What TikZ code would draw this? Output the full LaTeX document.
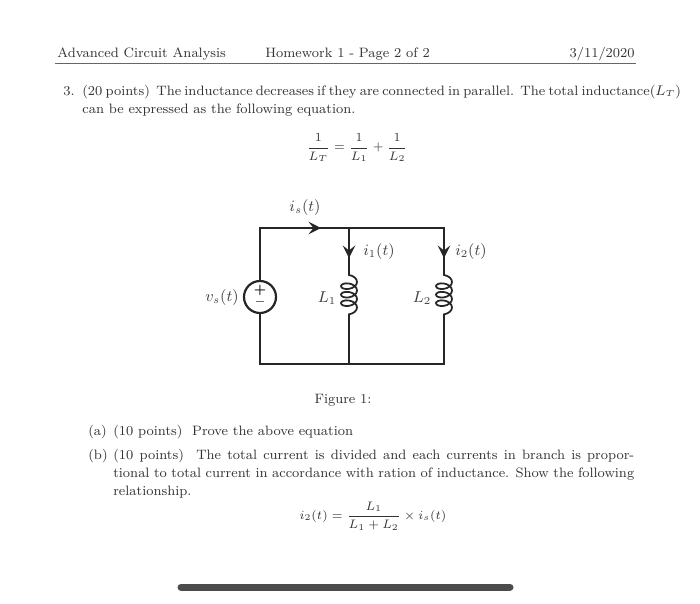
\documentclass[tikz,border=0pt]{standalone}
\usetikzlibrary{positioning}
\usetikzlibrary{calc}
\usetikzlibrary{arrows.meta}
\usetikzlibrary{decorations.pathmorphing}

\tikzset{
    page text/.style={anchor=base west, inner sep=0, text=black!80,
        font=\fontsize{7.75}{10}\selectfont},
    eq text/.style={inner sep=0, text=black!80,
        font=\fontsize{7.4}{10}\selectfont},
    label text/.style={inner sep=0, text=black!75,
        font=\fontsize{8.8}{10.5}\selectfont},
    wire/.style={line width=1.25pt, black!85},
    current/.style={wire, -{Stealth[length=2.5mm, width=2.5mm, inset=1mm]}},
    inductor/.style={wire, line width=1pt, decorate, decoration={coil, aspect=.6,
        segment length=.17cm, amplitude=.16cm, pre length=.04cm, post length=.04cm}}
}

\begin{document}
\begin{tikzpicture}[x=.02cm, y=-.02cm]
    \useasboundingbox (0, 0) rectangle (700, 603);

% header
\node[page text] (course) at (57, 57) {Advanced Circuit Analysis};
\node[page text] (homework) at (265, 57) {Homework 1 - Page 2 of 2};
\node[page text, anchor=base east] (date) at (635, 57) {3/11/2020};
\coordinate (rule-l) at (55, 63);
\coordinate (rule-r) at (636, 63);
\draw[black!60, thin] (rule-l) -- (rule-r);

% question
\node[page text] (number) at (63, 95) {3.};
\node[page text] (line-a) at (82, 95)
    {\makebox[11.96cm][s]{(20 points)\ \ The inductance decreases if they are connected in parallel.\ \ The total inductance($L_T$)}};
\node[page text] (line-b) at (82, 113) {can be expressed as the following equation.};
\node[eq text] (equation) at (357, 148)
    {$\displaystyle \frac{1}{L_T} = \frac{1}{L_1} + \frac{1}{L_2}$};

% circuit
\coordinate (top-l) at (260, 228);
\coordinate (top-m) at (349, 228);
\coordinate (top-r) at (444, 228);
\coordinate (bot-l) at (260, 364);
\coordinate (bot-m) at (349, 364);
\coordinate (bot-r) at (444, 364);
\coordinate (tip-s) at (321, 228);
\coordinate (tip-a) at (349, 258);
\coordinate (tip-b) at (444, 258);
\coordinate (coil-a-t) at (349, 273);
\coordinate (coil-a-b) at (349, 322);
\coordinate (coil-b-t) at (444, 273);
\coordinate (coil-b-b) at (444, 322);

\node[draw=black!85, line width=1.25pt, circle, minimum size=.64cm, inner sep=0] (source) at (260, 297) {};
\node[inner sep=0, font=\fontsize{7}{7}\selectfont\bfseries] (plus) at (260, 290) {+};
\node[inner sep=0, font=\fontsize{7}{7}\selectfont\bfseries] (minus) at (260, 304) {--};

\draw[wire] (source) -- (top-l) -- (top-r) -- (coil-b-t);
\draw[wire] (top-m) -- (coil-a-t);
\draw[wire] (coil-a-b) -- (bot-m);
\draw[wire] (coil-b-b) -- (bot-r) -- (bot-l) -- (source);
\draw[current] (top-l) -- (tip-s);
\draw[current] (top-m) -- (tip-a);
\draw[current] (top-r) -- (tip-b);
\draw[inductor] (coil-a-t) -- (coil-a-b);
\draw[inductor] (coil-b-t) -- (coil-b-b);

\node[label text] (is-label) at (305, 208) {$i_s(t)$};
\node[label text] (ia-label) at (379, 252) {$i_1(t)$};
\node[label text] (ib-label) at (471, 252) {$i_2(t)$};
\node[label text] (la-label) at (327, 298) {$L_1$};
\node[label text] (lb-label) at (422, 298) {$L_2$};
\node[label text] (vs-label) at (222, 298) {$v_s(t)$};

\node[page text, anchor=base] (caption) at (343, 403) {Figure 1:};

% parts
\node[page text] (part-a) at (88, 435) {(a)};
\node[page text] (text-a) at (113, 435) {(10 points)\ \ Prove the above equation};
\node[page text] (part-b) at (88, 459) {(b)};
\node[page text] (text-b) at (113, 459)
    {\makebox[10.42cm][s]{(10 points)\ \ The total current is divided and each currents in branch is propor-}};
\node[page text] (text-c) at (113, 477)
    {\makebox[10.42cm][s]{tional to total current in accordance with ration of inductance. Show the following}};
\node[page text] (text-d) at (113, 495) {relationship.};
\node[eq text] (relation) at (373, 516)
    {$\displaystyle i_2(t) = \frac{L_1}{L_1 + L_2} \times i_s(t)$};

% scroll bar
\coordinate (bar-l) at (181, 587);
\coordinate (bar-r) at (510, 587);
\draw[line width=.14cm, line cap=round, black!70] (bar-l) -- (bar-r);
\end{tikzpicture}
\end{document}
